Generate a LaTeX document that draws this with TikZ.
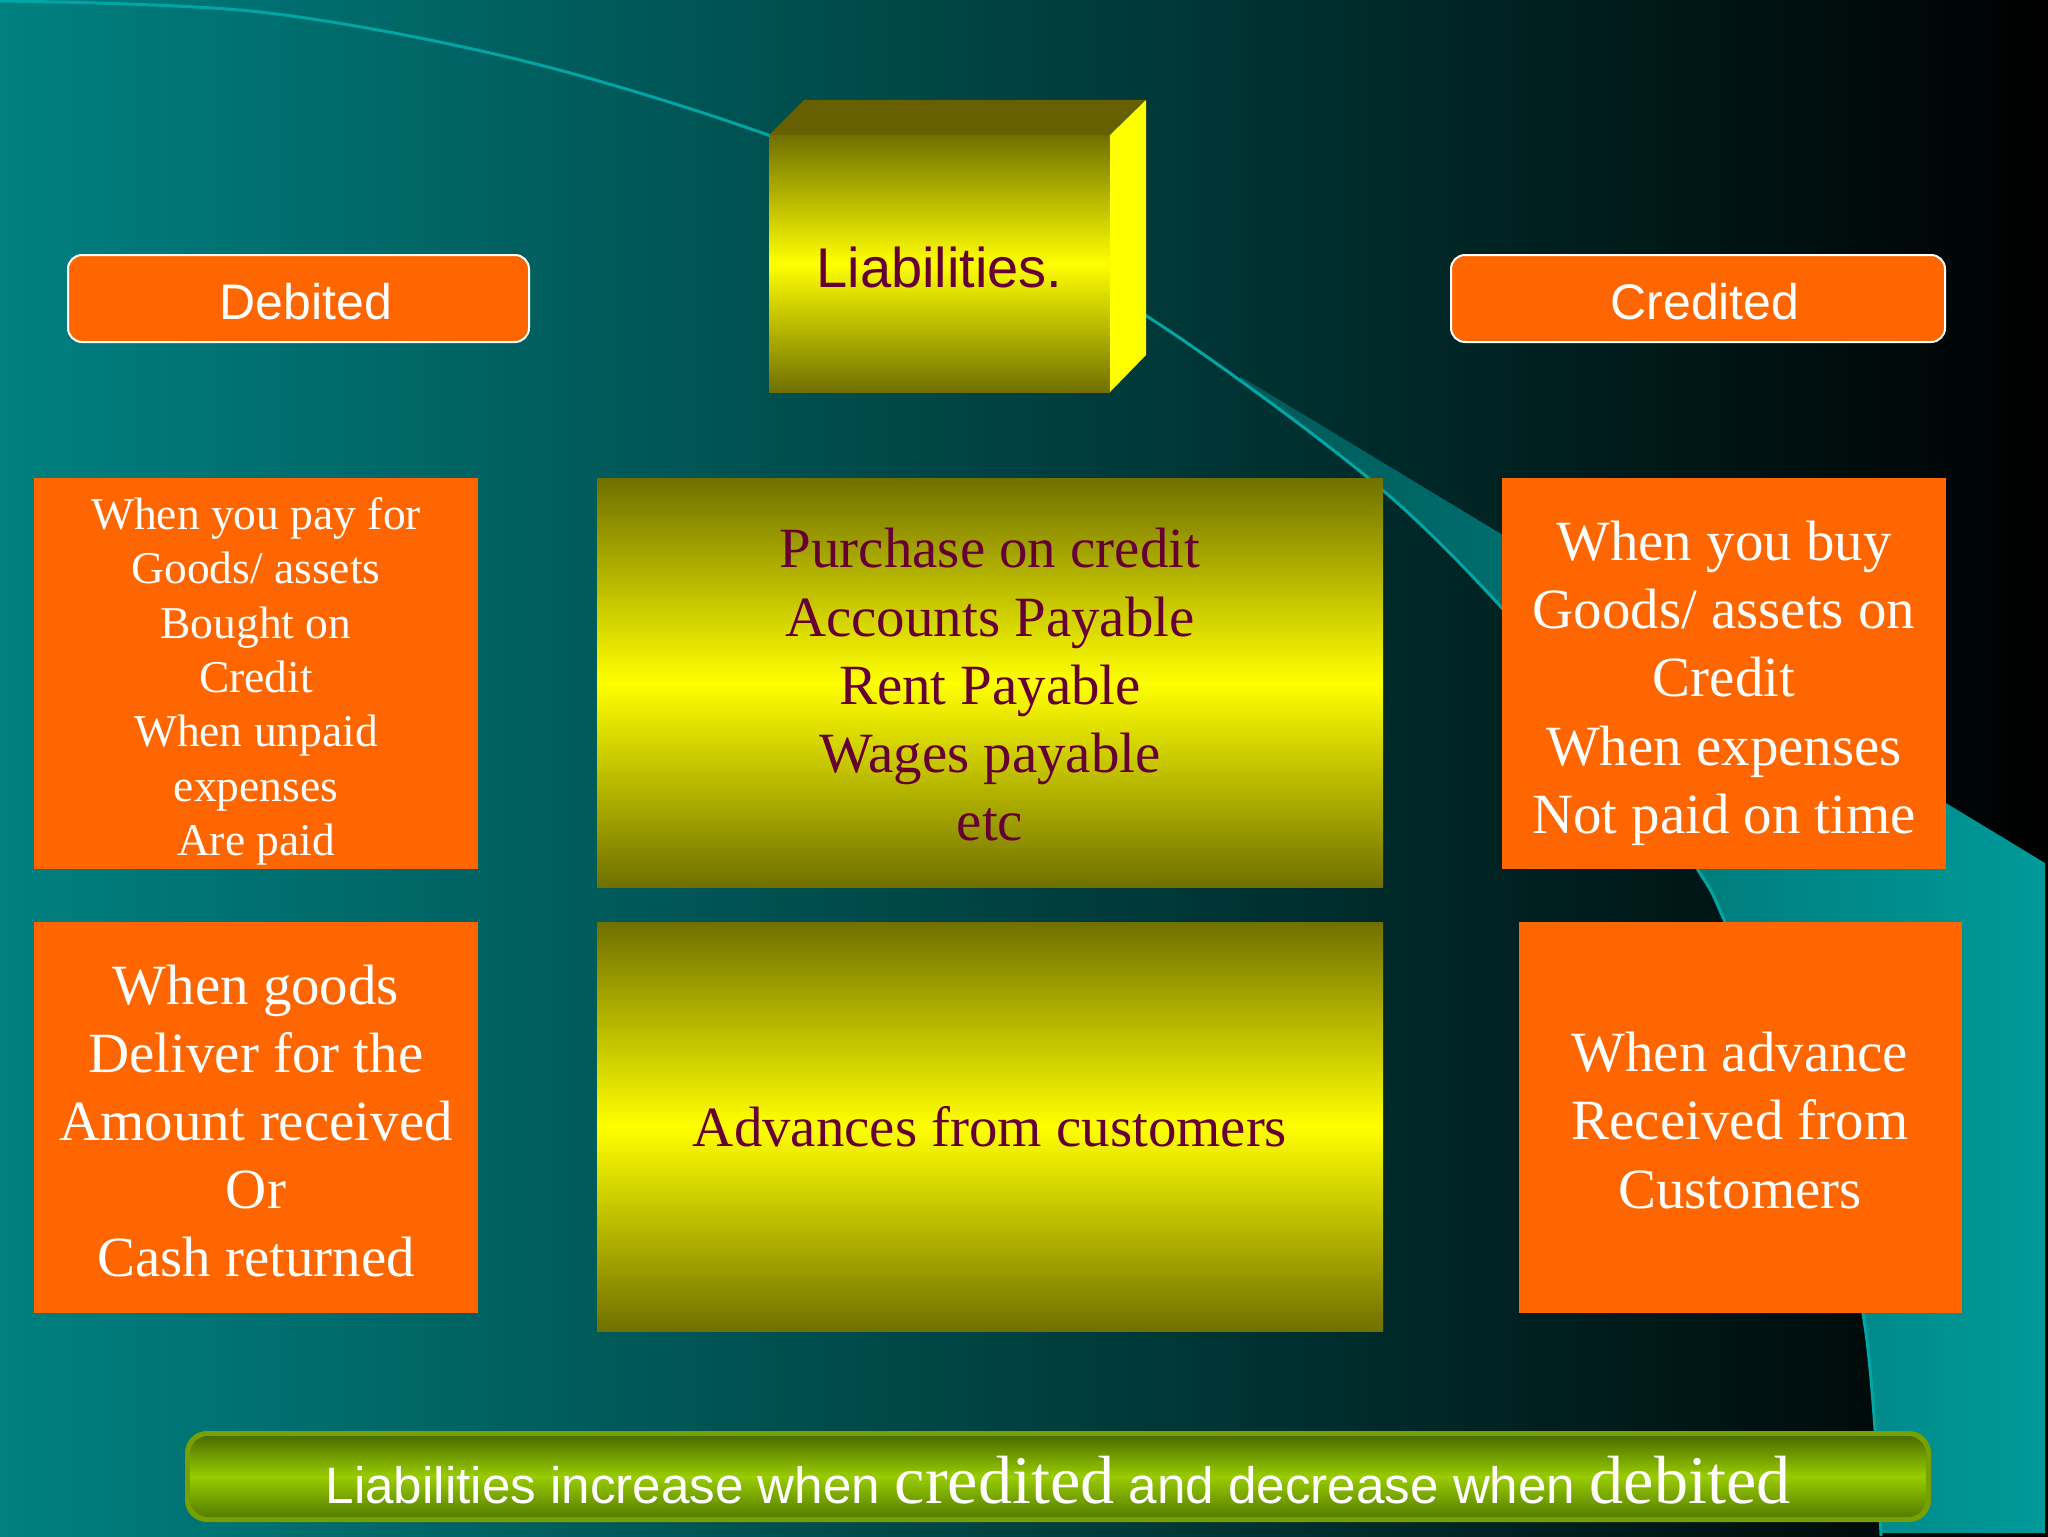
\documentclass[tikz,border=0pt]{standalone}
\usepackage{fontspec}
\setmainfont{Liberation Serif}
\newfontfamily\arialfont{Liberation Sans}
\definecolor{orng}{RGB}{255,102,0}
\definecolor{maroonT}{RGB}{102,0,51}
\definecolor{olv}{RGB}{112,112,0}
\definecolor{yel}{RGB}{255,255,0}
\definecolor{liabtop}{RGB}{102,96,0}
\definecolor{bgteal}{RGB}{0,128,128}
\definecolor{arcline}{RGB}{0,165,165}
\definecolor{fillA}{RGB}{0,88,88}
\definecolor{fillB}{RGB}{0,153,153}
\definecolor{barring}{RGB}{120,160,0}
\definecolor{bartop}{RGB}{75,110,0}
\definecolor{barmid}{RGB}{153,204,0}
\definecolor{barbot}{RGB}{85,125,0}
\newcommand\fbig{\fontsize{28.45pt}{34.12pt}\selectfont}
\newcommand\fsmall{\fontsize{22.75pt}{27.17pt}\selectfont}
\newcommand\fhdr{\arialfont\fontsize{25pt}{30pt}\selectfont}
\newcommand\fliab{\arialfont\fontsize{28pt}{33pt}\selectfont}
\newcommand\fbars{\arialfont\fontsize{25.6pt}{30pt}\selectfont}
\newcommand\fbart{\rmfamily\fontsize{34.1pt}{40pt}\selectfont}
\tikzset{
  obox/.style={rectangle, fill=orng, draw=none, inner sep=0pt},
  ybox/.style={rectangle, inner sep=0pt, draw=none, top color=olv, bottom color=olv, middle color=yel},
  hdr/.style={rectangle, rounded corners=7pt, fill=orng, draw=white, line width=1pt, inner sep=0pt},
  wtxt/.style={text=white, inner sep=0pt, align=center, font=\fbig},
  mtxt/.style={text=maroonT, inner sep=0pt, align=center, font=\fbig},
  arcstyle/.style={draw=arcline, line width=1.5pt},
}
\begin{document}
\begin{tikzpicture}[x=0.5pt,y=-0.5pt]
\useasboundingbox (0,0) rectangle (2048,1536);
% background
\fill[left color=bgteal, right color=black] (0,0) rectangle (2048,1536);
% teal ribbon
\begin{scope}
  \clip plot[smooth, tension=0.55] coordinates {(0,1) (260,12) (520,60) (768,135) (960,218) (1145,315) (1367,477) (1502,608) (1610,740) (1698,870) (1725,922) (1805,1110) (1863,1314) (1881,1536)} -- (2048,1536) -- (2048,-10) -- (0,-10) -- cycle;
  \fill[left color=fillA, right color=fillB] (1240,376) -- (2045,863) -- (2045,1533) -- (1240,1533) -- cycle;
\end{scope}
\draw[arcstyle] plot[smooth, tension=0.55] coordinates {(0,1) (260,12) (520,60) (768,135) (960,218) (1145,315) (1367,477) (1502,608) (1610,740) (1698,870) (1725,922) (1805,1110) (1863,1314) (1881,1536)};
% headers
\node[hdr, minimum width=230.5pt, minimum height=43.5pt] (deb) at (298.5,298.5) {};
\node[hdr, minimum width=247pt, minimum height=43.5pt] (cred) at (1698,298.5) {};
\node[font=\fhdr, text=white, anchor=base, inner sep=0pt] (debt) at (306,319) {Debited};
\node[font=\fhdr, text=white, anchor=base, inner sep=0pt] (credt) at (1705,319) {Credited};
% 3D Liabilities box
\node[rectangle, inner sep=0pt, draw=none, top color=olv, bottom color=olv, middle color=yel, minimum width=170.5pt, minimum height=128.5pt] (liab) at (939.5,263.5) {};
\fill[liabtop] (769,135) -- (804,100) -- (1146,100) -- (1110,135) -- cycle;
\fill[yel] (1110,135) -- (1146,100) -- (1146,355) -- (1110,392) -- cycle;
\node[font=\fliab, text=maroonT, anchor=base, inner sep=0pt] (liabt) at (939.5,287) {Liabilities.};
% middle boxes
\node[ybox, minimum width=393pt, minimum height=204.5pt] (m1) at (990,682.5) {};
\node[ybox, minimum width=393pt, minimum height=204.5pt] (m2) at (990,1126.5) {};
% orange boxes
\node[obox, minimum width=222pt, minimum height=195.5pt] (dl1) at (256,673.5) {};
\node[obox, minimum width=222pt, minimum height=195.5pt] (dl2) at (256,1117.5) {};
\node[obox, minimum width=222pt, minimum height=195.5pt] (cr1) at (1724,673.5) {};
\node[obox, minimum width=221.5pt, minimum height=195.5pt] (cr2) at (1740.5,1117.5) {};
% texts
\node[wtxt, font=\fsmall] (dl1t) at (256,681.4) {When you pay for\\Goods/ assets\\Bought on\\Credit\\When unpaid\\expenses\\Are paid};
\node[wtxt] (dl2t) at (256,1121) {When goods\\Deliver for the\\Amount received\\Or\\Cash returned};
\node[mtxt] (m1t) at (990,685) {Purchase on credit\\Accounts Payable\\Rent Payable\\Wages payable\\etc};
\node[mtxt, anchor=base] (m2t) at (990,1146) {Advances from customers};
\node[wtxt] (cr1t) at (1724,683.2) {When you buy\\Goods/ assets on\\Credit\\When expenses\\Not paid on time};
\node[wtxt] (cr2t) at (1740,1120.5) {When advance\\Received from\\Customers};
% bottom bar
\node[rectangle, rounded corners=11pt, fill=barring, draw=none, inner sep=0pt, minimum width=873pt, minimum height=45.5pt] (barout) at (1058,1476.5) {};
\node[rectangle, rounded corners=9pt, draw=none, inner sep=0pt, top color=bartop, bottom color=barbot, middle color=barmid, minimum width=868pt, minimum height=40.5pt] (barin) at (1058,1476.5) {};
\node[font=\fbars, text=white, anchor=base, inner sep=0pt] (bart) at (1058,1503) {Liabilities increase when {\fbart credited} and decrease when {\fbart debited}};
\end{tikzpicture}
\end{document}
